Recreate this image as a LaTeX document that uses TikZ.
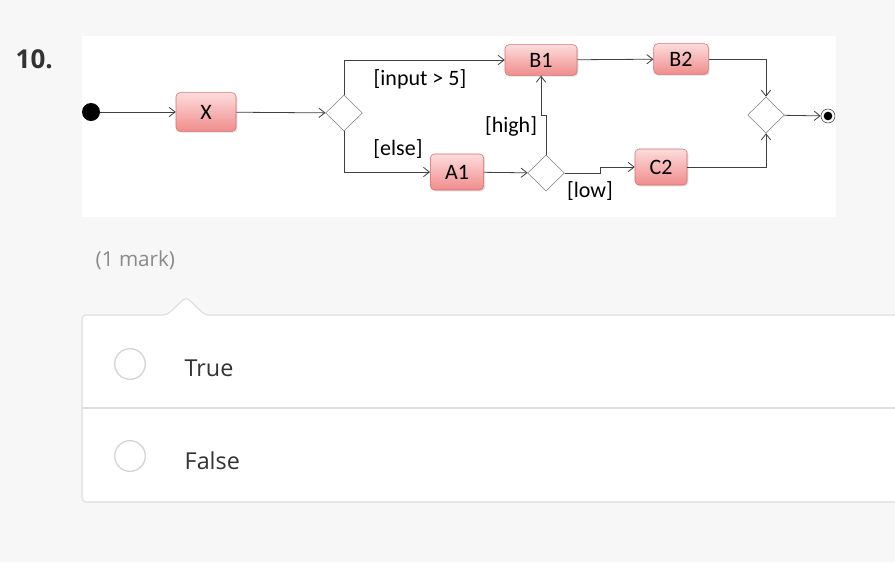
\documentclass[tikz,border=0pt]{standalone}
\usepackage{fontspec}
\setmainfont{Open Sans}
\newfontfamily\diagfont{Carlito}
\usetikzlibrary{shapes.geometric,arrows.meta,shadows}
\definecolor{pagebg}{HTML}{F7F7F7}
\definecolor{rulegray}{HTML}{DDDDDD}
\definecolor{markgray}{HTML}{8A8A8A}
\definecolor{textdark}{HTML}{333333}
\definecolor{linegray}{HTML}{404040}
\definecolor{actlight}{HTML}{FDDCDC}
\definecolor{actdark}{HTML}{F08C8C}
\definecolor{actborder}{HTML}{D47070}
\tikzset{
  action/.style={draw=actborder, rounded corners=3pt, top color=actlight,
    bottom color=actdark, inner sep=0pt, font=\diagfont\fontsize{16.5}{19}\selectfont,
    drop shadow={shadow xshift=1pt, shadow yshift=-1pt, opacity=0.25}},
  choice/.style={diamond, draw=gray, fill=white, inner sep=0pt,
    minimum width=27.5pt, minimum height=27pt},
  flow/.style={draw=linegray, line width=0.6pt,
    -{Straight Barb[length=4.5pt, width=7pt, line width=0.6pt]}},
  guard/.style={font=\diagfont\fontsize{16.5}{19}\selectfont, inner sep=0pt},
  radio/.style={circle, draw=rulegray!90!gray, line width=1pt, minimum size=23pt, inner sep=0pt},
  answer/.style={anchor=west, text=textdark, font=\fontsize{17.5}{21}\selectfont}
}
\begin{document}
\begin{tikzpicture}[x=0.75pt, y=-0.75pt]
\useasboundingbox (0,0) rectangle (895,562);
\fill[pagebg] (0,0) rectangle (895,562);
\fill[white] (82,36) rectangle (836,217);

% question number and mark
\node[anchor=west, text=textdark, font=\bfseries\fontsize{19.5}{22}\selectfont] (num) at (11,59) {10.};
\node[anchor=west, text=markgray, font=\fontsize{15.5}{18}\selectfont] (mark) at (91,260) {(1 mark)};

% answer panel
\filldraw[fill=white, draw=rulegray, line width=0.8pt, rounded corners=3pt]
  (900,315) -- (205,315) -- (186,297) -- (167,315) [rounded corners=3pt] -- (82,315)
  -- (82,502) -- (900,502);
\draw[rulegray, line width=0.8pt] (82,408) -- (900,408);
\node[radio] (r1) at (130,364) {};
\node[radio] (r2) at (130,456) {};
\node[answer] (true) at (180,368) {True};
\node[answer] (false) at (180,461) {False};

% activity diagram
\node[circle, fill=black, minimum size=13.5pt, inner sep=0pt] (start) at (91,112) {};
\node[action, minimum width=45pt, minimum height=29pt] (X) at (206,112) {X};
\node[choice] (d1) at (344,113) {};
\node[action, minimum width=54pt, minimum height=23pt] (B1) at (541,60) {B1};
\node[action, minimum width=41pt, minimum height=23pt] (B2) at (681,59) {B2};
\node[action, minimum width=40pt, minimum height=27pt] (A1) at (457,172) {A1};
\node[choice] (d2) at (546,173) {};
\node[action, minimum width=39pt, minimum height=27pt] (C2) at (661,167) {C2};
\node[choice] (d3) at (766,115) {};
\node[circle, draw=linegray, fill=white, minimum size=10.5pt, inner sep=0pt] (stop) at (828,116) {};
\node[circle, fill=black, minimum size=6.5pt, inner sep=0pt] (stopdot) at (stop.center) {};

\draw[flow] (start) -- (X);
\draw[flow] (X) -- (d1);
\draw[flow] (d1.north) |- (B1);
\draw[flow] (d1.south) |- (A1);
\draw[flow] (A1) -- (d2);
\draw[flow] (d2.north) -- (546,115) -- (541,115) -- (B1.south);
\draw[flow] (d2.east) -- (600,173) -- (600,167) -- (C2);
\draw[flow] (B1) -- (B2);
\draw[flow] (B2.east) -| (d3.north);
\draw[flow] (C2.east) -| (d3.south);
\draw[flow] (d3) -- (stop);

\node[guard] (g1) at (420,79) {[input > 5]};
\node[guard] (g2) at (398,149) {[else]};
\node[guard] (g3) at (511,126) {[high]};
\node[guard] (g4) at (590,191) {[low]};
\end{tikzpicture}
\end{document}
